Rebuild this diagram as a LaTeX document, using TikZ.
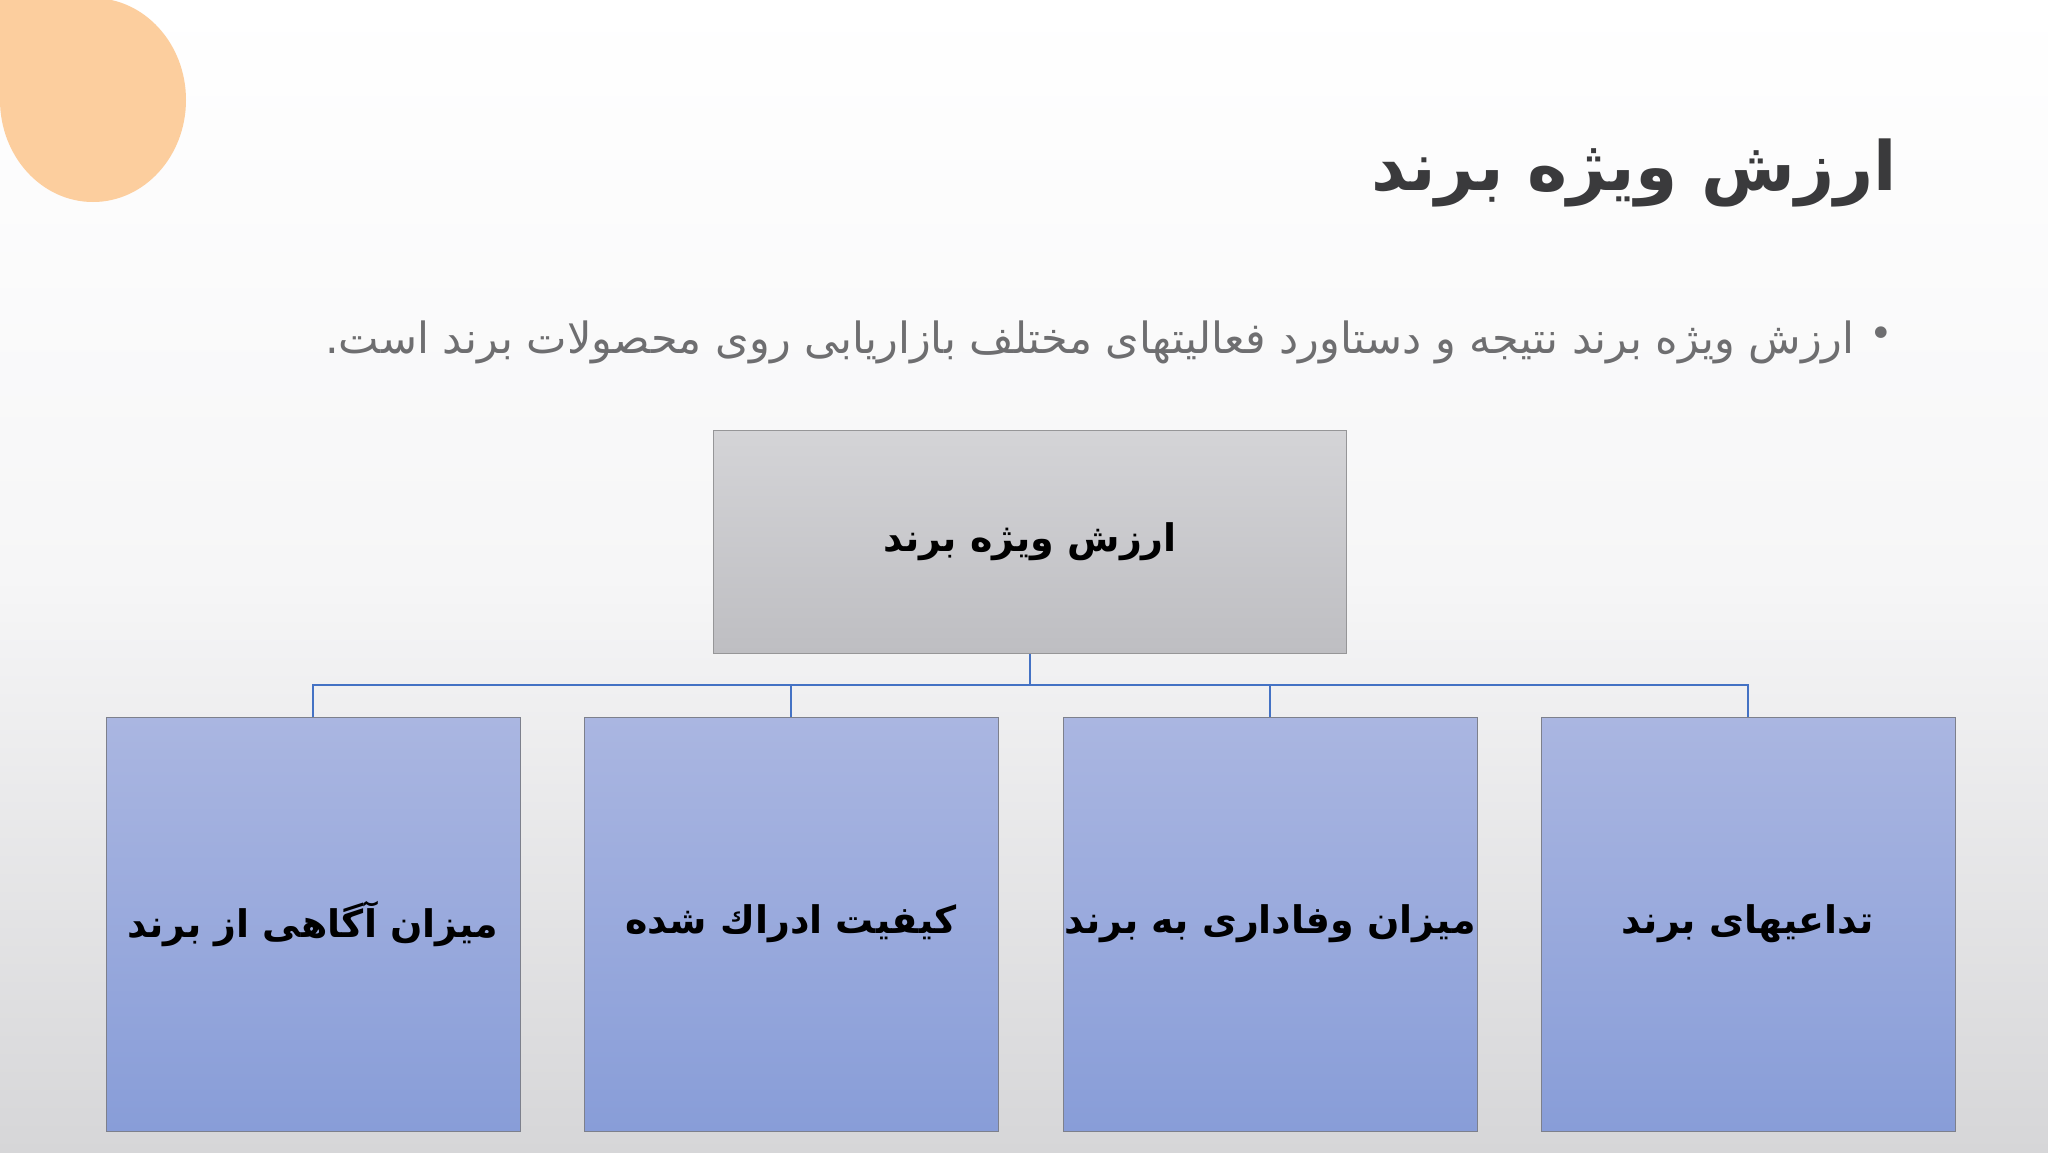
\documentclass[tikz,border=0pt]{standalone}
\usepackage{fontspec}
\TeXXeTstate=1
\newfontfamily\arabicfont[Script=Arabic]{DejaVu Sans}
\definecolor{bgbot}{RGB}{214,214,216}
\definecolor{orangeblob}{RGB}{252,206,158}
\definecolor{titlecol}{RGB}{58,58,60}
\definecolor{bulletcol}{RGB}{110,110,112}
\definecolor{topboxtop}{RGB}{212,212,215}
\definecolor{topboxbot}{RGB}{190,190,194}
\definecolor{topboxline}{RGB}{150,150,152}
\definecolor{boxtop}{RGB}{170,182,225}
\definecolor{boxbot}{RGB}{136,157,216}
\definecolor{boxline}{RGB}{125,128,140}
\definecolor{conncol}{RGB}{68,114,196}
\tikzset{
  rootbox/.style={draw=topboxline, line width=1pt, top color=topboxtop, bottom color=topboxbot,
    minimum width=633pt, minimum height=223pt, inner sep=0pt},
  leafbox/.style={draw=boxline, line width=1pt, top color=boxtop, bottom color=boxbot,
    minimum width=414pt, minimum height=414pt, inner sep=0pt},
  boxtext/.style={font=\arabicfont\bfseries\fontsize{38}{46}\selectfont, text=black},
  conn/.style={draw=conncol, line width=1.6pt}
}
\begin{document}
\begin{tikzpicture}[x=1pt,y=-1pt]
\useasboundingbox (0,0) rectangle (2048,1152);
\shade[top color=white, bottom color=bgbot, middle color={rgb,255:red,246;green,246;blue,247}] (0,0) rectangle (2048,1152);
% orange blob
\fill[orangeblob] (0,0) rectangle (93,100);
\fill[orangeblob] (93,100) ellipse [x radius=93, y radius=102];
% title
\node[text=titlecol, font=\arabicfont\bfseries\fontsize{68}{76}\selectfont] (title) at (1634,173) {\beginR ارزش ویژه برند\endR};
% bullet line
\node[text=bulletcol, font=\fontsize{40}{48}\selectfont] (bullet) at (1881,337) {\arabicfont •};
\node[text=bulletcol, anchor=east, font=\arabicfont\fontsize{43}{50}\selectfont] (line) at (1858,342) {\beginR ارزش ویژه برند نتیجه و دستاورد فعالیتهای مختلف بازاریابی روی محصولات برند است.\endR};
% root box
\node[rootbox] (root) at (1030,541.5) {};
\node[boxtext] (roottext) at (root.center) {\beginR ارزش ویژه برند\endR};
% leaf boxes
\node[leafbox] (b1) at (313,924) {};
\node[leafbox] (b2) at (791,924) {};
\node[leafbox] (b3) at (1270,924) {};
\node[leafbox] (b4) at (1748,924) {};
\node[boxtext] (t1) at (b1.center) {\beginR میزان آگاهی از برند\endR};
\node[boxtext] (t2) at (b2.center) {\beginR کیفیت ادراك شده\endR};
\node[boxtext] (t3) at (b3.center) {\beginR میزان وفاداری به برند\endR};
\node[boxtext] (t4) at (b4.center) {\beginR تداعیهای برند\endR};
% connectors
\coordinate (junc) at (1030,685);
\draw[conn] (root.south) -- (junc);
\draw[conn] (junc) -| (b1.north);
\draw[conn] (junc) -| (b2.north);
\draw[conn] (junc) -| (b3.north);
\draw[conn] (junc) -| (b4.north);
\end{tikzpicture}
\end{document}
